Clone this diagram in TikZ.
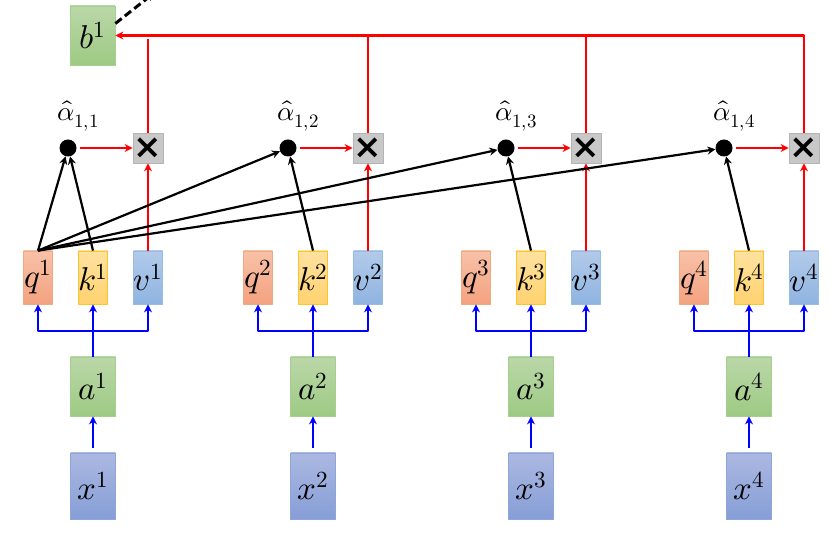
\documentclass[tikz,border=0pt]{standalone}
\usepackage{fontspec}
\usepackage{unicode-math}
\setmathfont{Latin Modern Math}
\usetikzlibrary{positioning,arrows.meta}
\newfontfamily\symfont{DejaVu Sans}
\definecolor{qtop}{RGB}{248,193,168}
\definecolor{qbot}{RGB}{244,162,128}
\definecolor{qline}{RGB}{240,170,130}
\definecolor{ktop}{RGB}{255,226,160}
\definecolor{kbot}{RGB}{255,210,112}
\definecolor{kline}{RGB}{255,196,40}
\definecolor{vtop}{RGB}{178,202,234}
\definecolor{vbot}{RGB}{143,180,225}
\definecolor{vline}{RGB}{150,188,228}
\definecolor{gtop}{RGB}{186,215,168}
\definecolor{gbot}{RGB}{158,202,132}
\definecolor{gline}{RGB}{165,207,140}
\definecolor{xtop}{RGB}{172,184,226}
\definecolor{xbot}{RGB}{134,158,214}
\definecolor{xline}{RGB}{140,166,218}
\definecolor{mulfill}{RGB}{200,200,200}
\tikzset{
  vecbox/.style={draw, line width=0.8pt, inner sep=0pt, minimum width=29pt,
    minimum height=53pt, font=\fontsize{33}{35}\selectfont},
  qbox/.style={vecbox, draw=qline, top color=qtop, bottom color=qbot},
  kbox/.style={vecbox, draw=kline, top color=ktop, bottom color=kbot},
  vbox/.style={vecbox, draw=vline, top color=vtop, bottom color=vbot},
  abox/.style={vecbox, draw=gline, top color=gtop, bottom color=gbot,
    minimum width=45pt, minimum height=59pt},
  xbox/.style={vecbox, draw=xline, top color=xtop, bottom color=xbot,
    minimum width=45pt, minimum height=66pt},
  mulbox/.style={draw=mulfill!90!black, fill=mulfill, line width=0.8pt,
    inner sep=0pt, minimum size=30pt, font=\symfont\bfseries\fontsize{34}{34}\selectfont},
  dot/.style={circle, fill=black, inner sep=0pt, minimum size=17pt},
  alphalbl/.style={inner sep=0pt, font=\fontsize{27}{29}\selectfont},
  blueline/.style={blue, line width=2.2pt},
  redline/.style={red, line width=2.2pt},
  attn/.style={black, line width=2.2pt}
}
\begin{document}
\begin{tikzpicture}[x=1pt, y=1pt, line join=round,
    >={Stealth[length=8pt,width=8pt]}]
  \useasboundingbox (0,0) rectangle (838,535);
  %   \draw[gray!50] (0,0) grid[step=50] (838,535);
  \node[abox] (b1) at (92.5,499.5) {$b^{1}$};
  \foreach \i/\dx in {1/0,2/220,3/438,4/656} {
    \node[qbox] (q\i) at (38+\dx,257.5) {$q^{\i}$};
    \node[kbox] (k\i) at (93+\dx,257.5) {$k^{\i}$};
    \node[vbox] (v\i) at (148+\dx,257.5) {$v^{\i}$};
    \node[abox] (a\i) at (93+\dx,148.5) {$a^{\i}$};
    \node[xbox] (x\i) at (93+\dx,49) {$x^{\i}$};
    \node[mulbox] (m\i) at (148+\dx,387) {×};
    \node[dot] (d\i) at (68+\dx,387) {};
    \node[alphalbl, above=8pt of d\i, xshift=10pt] (al\i) {$\hat{\alpha}_{1,\i}$};
    \coordinate (bus\i) at (93+\dx,204);
    % embedding to q, k, v
    \draw[blueline,->] (x\i.north) ++(0,5) -- (a\i.south);
    \draw[blueline,->] (a\i.north) -- (k\i.south);
    \draw[blueline,<->] (q\i.south) |- (bus\i) -| (v\i.south);
    % attention scores and weighting
    \draw[attn,->] (q1.north) -- (d\i);
    \draw[attn,->] (k\i.north) -- (d\i);
    \draw[redline,->,shorten <=3pt] (d\i) -- (m\i);
    \draw[redline,->] (v\i.north) -- (m\i.south);
  }
  % sum into b^1
  \coordinate (top1) at (148,496);
  \coordinate (bout) at (154,542);
  \draw[redline] (m1.north) -- (top1);
  \foreach \i in {2,3} \draw[redline] (m\i.north) -- (m\i.north |- b1.east);
  \draw[redline,->] (m4.north) |- (b1.east);
  \draw[attn,dash pattern=on 8pt off 4pt,line width=3pt,->] ([yshift=12pt]b1.east) -- (bout);
\end{tikzpicture}
\end{document}
